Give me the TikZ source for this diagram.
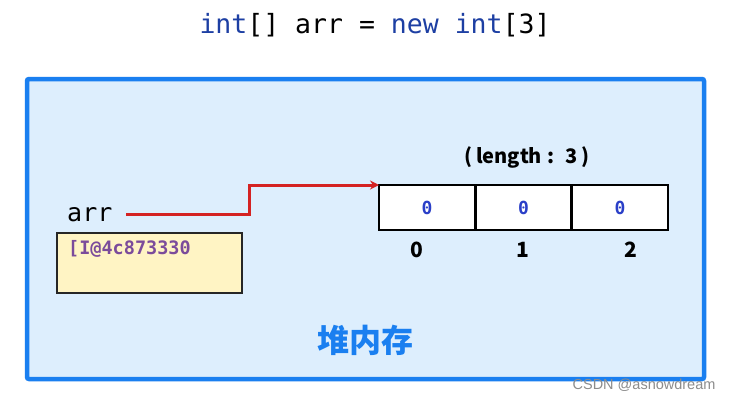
\documentclass[tikz,border=0pt]{standalone}
\usepackage{fontspec}
\setmainfont{Noto Sans}
\setmonofont{DejaVu Sans Mono}
\newfontfamily\cjk{Noto Sans CJK SC}
\newfontfamily\csdnfont{Liberation Sans}
\usetikzlibrary{arrows.meta}
\definecolor{heapblue}{HTML}{1A7FF0}
\definecolor{heapfill}{HTML}{DDEEFD}
\definecolor{kwblue}{HTML}{1D3FA3}
\definecolor{valblue}{HTML}{2A3FC8}
\definecolor{refred}{HTML}{D42222}
\definecolor{addrpurple}{HTML}{7B4B9B}
\definecolor{yellowfill}{HTML}{FFF4C4}
\tikzset{
  cell/.style={draw=black, line width=2.6pt, fill=white, minimum width=96pt, minimum height=45pt, inner sep=0pt, outer sep=0pt},
  val/.style={font=\ttfamily\bfseries\fontsize{18}{18}\selectfont, text=valblue},
  idx/.style={font=\cjk\bfseries\fontsize{21}{21}\selectfont},
}
\begin{document}
\begin{tikzpicture}[x=1pt,y=-1pt]
\useasboundingbox[fill=white] (0,0) rectangle (735,400);
% title
\node (title) at (375,25) {\ttfamily\fontsize{26.5}{26.5}\selectfont\textcolor{kwblue}{int}[] arr = \textcolor{kwblue}{new} \textcolor{kwblue}{int}[3]};
% heap box
\node (heap) [draw=heapblue, line width=4.5pt, fill=heapfill, rounded corners=2pt, minimum width=677pt, minimum height=300pt, inner sep=0pt] at (365.5,229) {};
% array cells
\node (c0) [cell] at (427,207.5) {};
\node (c1) [cell] at (523.5,207.5) {};
\node (c2) [cell] at (620,207.5) {};
\draw[line width=2.6pt] (c0.north west) rectangle (c2.south east);
\node[val] (v0) at (c0) {0};
\node[val] (v1) at (c1) {0};
\node[val] (v2) at (c2) {0};
\node[idx] (i0) at (417,250) {0};
\node[idx] (i1) at (523,250) {1};
\node[idx] (i2) at (631,250) {2};
\node (len) [font=\cjk\bfseries\fontsize{20}{20}\selectfont] at (527,157) {(\,length\;:\;\;3\,)};
% variable
\node (arr) [font=\ttfamily\fontsize{25}{25}\selectfont, anchor=base west, inner sep=0pt] at (67,221) {arr};
\coordinate (start) at (126,214);
\draw[refred, line width=3pt, -{Stealth[length=9pt,width=9pt]}] (start) -- (249,214) -- (249,185) -- (c0.north west);
% address box
\node (addr) [draw=black!85, line width=2pt, fill=yellowfill, minimum width=185pt, minimum height=60pt, inner sep=0pt] at (149.5,263) {};
\node (addrtext) [font=\ttfamily\bfseries\fontsize{18.5}{18.5}\selectfont, text=addrpurple, anchor=west, inner sep=0pt] at (68,249) {[I@4c873330};
% heap label
\node (heaplbl) [font=\cjk\bfseries\fontsize{32}{32}\selectfont, text=heapblue] at (365,340) {堆内存};
% watermark
\node (wm) [font=\csdnfont\fontsize{14.5}{14.5}\selectfont, text=black!45, anchor=east] at (719,385) {CSDN @asnowdream};
\end{tikzpicture}
\end{document}
